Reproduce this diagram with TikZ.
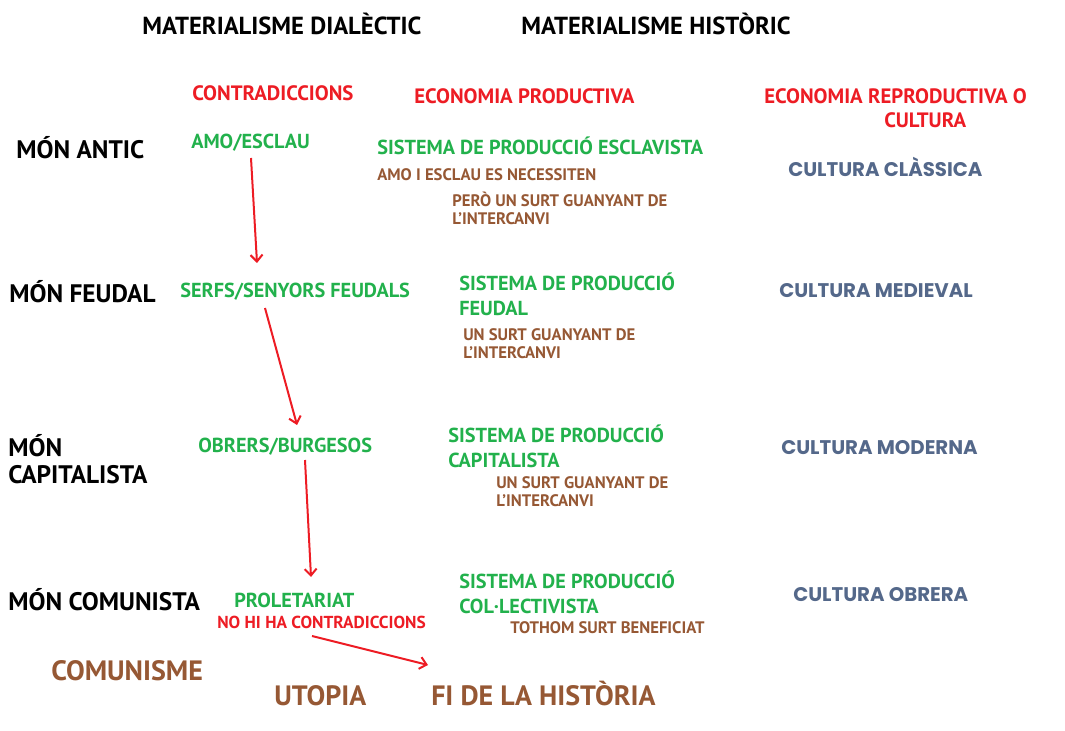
\documentclass[tikz,border=0pt]{standalone}
\usepackage{fontspec}
\setmainfont{PT Sans}
\newfontfamily\culturafont{Poppins}
\usetikzlibrary{arrows.meta,calc}
\definecolor{paintred}{RGB}{237,28,36}
\definecolor{paintgreen}{RGB}{34,177,76}
\definecolor{paintbrown}{RGB}{150,88,52}
\definecolor{slateblue}{RGB}{84,104,138}
\tikzset{
	txt/.style={anchor=west, inner sep=0pt, align=left},
	titol/.style={txt, font=\fontsize{18.5}{20}\selectfont\bfseries},
	capcal/.style={txt, text=paintred, font=\fontsize{15.6}{18}\selectfont\bfseries},
	mon/.style={txt, font=\fontsize{19}{20.5}\selectfont\bfseries},
	classe/.style={txt, text=paintgreen, font=\fontsize{15.2}{18.5}\selectfont\bfseries},
	nota/.style={txt, text=paintbrown, font=\fontsize{12.5}{13.5}\selectfont\bfseries},
	cultura/.style={txt, text=slateblue, font=\culturafont\fontsize{14.8}{16}\selectfont\bfseries},
	final/.style={txt, text=paintbrown, font=\fontsize{21}{24}\selectfont\bfseries},
	fletxa/.style={draw=paintred, line width=1.5pt, -{Straight Barb[length=5pt,width=9pt]}}
}
\begin{document}
\begin{tikzpicture}[x=0.75pt, y=-0.75pt]
		%%%%% START %%%%%
		\useasboundingbox (0, 0) rectangle (1065, 731);
		
		\node[titol] (dialectic) at (142, 24) {MATERIALISME DIALÈCTIC};
		\node[titol] (historic) at (521, 24) {MATERIALISME HISTÒRIC};
		
		\node[capcal] (contra) at (192, 93) {CONTRADICCIONS};
		\node[capcal] (ecoprod) at (414, 96) {ECONOMIA PRODUCTIVA};
		\node[capcal] (ecorepro) at (764, 108) {ECONOMIA REPRODUCTIVA O\\\hspace*{90pt}CULTURA};
		
		%% mon antic
		\node[mon] (antic) at (16, 148) {MÓN ANTIC};
		\node[classe] (amo) at (191, 143) {AMO/ESCLAU};
		\node[classe] (sisantic) at (377, 146) {SISTEMA DE PRODUCCIÓ ESCLAVISTA};
		\node[nota] (necessiten) at (377, 175) {AMO I ESCLAU ES NECESSITEN};
		\node[nota] (pero) at (452, 208) {PERÒ UN SURT GUANYANT DE\\L'INTERCANVI};
		\node[cultura] (classica) at (788, 167) {CULTURA CLÀSSICA};
		
		%% mon feudal
		\node[mon] (feudal) at (9, 292) {MÓN FEUDAL};
		\node[classe] (serfs) at (180, 292) {SERFS/SENYORS FEUDALS};
		\node[classe] (sisfeudal) at (459, 294) {SISTEMA DE PRODUCCIÓ\\FEUDAL};
		\node[nota] (guanyfeudal) at (463, 344) {UN SURT GUANYANT DE\\L'INTERCANVI};
		\node[cultura] (medieval) at (779, 291) {CULTURA MEDIEVAL};
		
		%% mon capitalista
		\node[mon] (capitalista) at (8, 459) {MÓN\\CAPITALISTA};
		\node[classe] (obrers) at (198, 447) {OBRERS/BURGESOS};
		\node[classe] (siscapital) at (448, 446) {SISTEMA DE PRODUCCIÓ\\CAPITALISTA};
		\node[nota] (guanycapital) at (496, 492) {UN SURT GUANYANT DE\\L'INTERCANVI};
		\node[cultura] (moderna) at (781, 448) {CULTURA MODERNA};
		
		%% mon comunista
		\node[mon] (comunista) at (8, 600) {MÓN COMUNISTA};
		\node[classe] (proletariat) at (234, 600) {PROLETARIAT};
		\node[txt, text=paintred, font=\fontsize{13}{14}\selectfont\bfseries] (nocontra) at (217, 622) {NO HI HA CONTRADICCIONS};
		\node[classe] (siscomu) at (459, 592) {SISTEMA DE PRODUCCIÓ\\COL·LECTIVISTA};
		\node[nota] (tothom) at (510, 628) {TOTHOM SURT BENEFICIAT};
		\node[cultura] (obrera) at (793, 595) {CULTURA OBRERA};
		
		\node[final] (comunisme) at (51, 671) {COMUNISME};
		\node[final] (utopia) at (274, 696) {UTOPIA};
		\node[final] (fi) at (431, 694) {FI DE LA HISTÒRIA};
		
		\draw[fletxa] ($(amo.west)+(60, 15)$) -- ($(serfs.west)+(77, -29)$);
		\draw[fletxa] ($(serfs.west)+(85, 16)$) -- ($(obrers.west)+(99, -22)$);
		\draw[fletxa] ($(obrers.west)+(107, 13)$) -- ($(proletariat.west)+(77, -23)$);
		\draw[fletxa] ($(nocontra.west)+(95, 14)$) -- ($(fi.west)+(-3, -29)$);
		
		%%%%% END %%%%%
\end{tikzpicture}
\end{document}
